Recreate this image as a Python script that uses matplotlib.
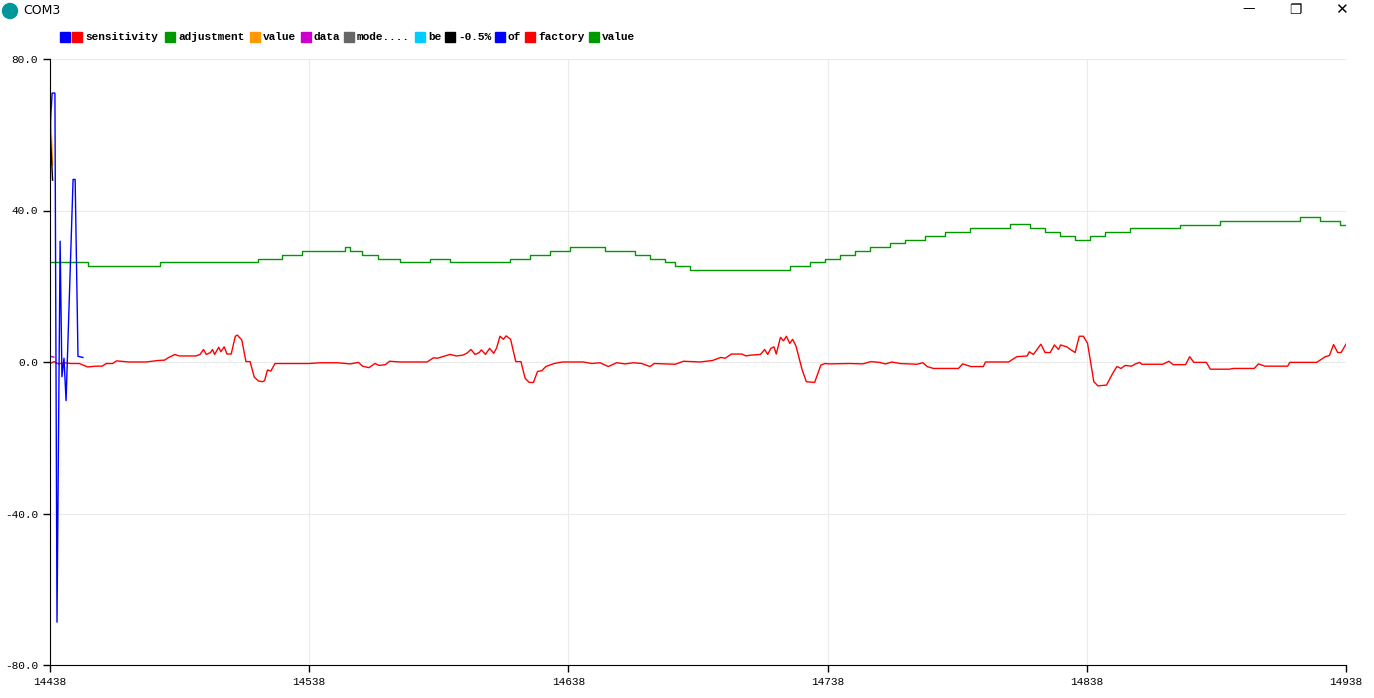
import matplotlib.pyplot as plt
from matplotlib.patches import Rectangle, Ellipse

x0 = 14438
x_ticks = [14438, 14538, 14638, 14738, 14838, 14938]
y_ticks = [-80.0, -40.0, 0.0, 40.0, 80.0]

legend_labels = ["", "sensitivity", "adjustment", "value", "data", "mode....",
                 "be", "-0.5%", "of", "factory", "value"]
legend_colors = ["#0000ff", "#ff0000", "#009900", "#ff9900", "#cc00cc", "#666666",
                 "#00ccff", "#000000", "#0000ff", "#ff0000", "#009900"]

# blue trace (sample index, value)
blue_x = [0, 0.8, 1.9, 2.7, 3.9, 4.6, 5.4, 6.2, 8.9, 9.7, 10.8, 12.7]
blue_y = [60, 71, 71, -68.7, 31.9, -3.9, 1, -10.2, 48.2, 48.2, 1.5, 1.2]

black_x = [0, 1]
black_y = [62, 48]
orange_x = [0, 1]
orange_y = [70, 52]
magenta_x = [0, 1.5]
magenta_y = [1.5, 1.3]

# green step trace: start index of each level, and level
green_x = [0, 14.7, 42.4, 80.2, 89.5, 97.2, 113.8, 115.7, 120.4, 126.5, 135, 146.6,
           154.3, 177.5, 185.2, 192.9, 200.6, 214.1, 225.7, 231.5, 237.3, 241.1,
           246.9, 285.5, 293.2, 299, 304.8, 310.6, 316.4, 324.1, 329.9, 337.6,
           345.3, 354.9, 370.4, 378.1, 383.9, 389.7, 395.4, 401.2, 407, 416.7,
           436, 451.4, 482.3, 490, 497.7, 500]
green_y = [26.3, 25.3, 26.3, 27.3, 28.3, 29.3, 30.3, 29.3, 28.3, 27.3, 26.3, 27.3,
           26.3, 27.3, 28.3, 29.3, 30.4, 29.3, 28.3, 27.3, 26.3, 25.3,
           24.3, 25.3, 26.3, 27.3, 28.3, 29.3, 30.3, 31.3, 32.3, 33.3,
           34.3, 35.3, 36.5, 35.3, 34.3, 33.3, 32.3, 33.3, 34.3, 35.3,
           36.3, 37.3, 38.2, 37.3, 36.3, 36.3]

red_x = [0, 1.6, 3.2, 5.6, 8, 11.3, 14.5, 17.7, 20.1, 21.7, 24.1, 25.7, 30.5, 37,
         41.8, 44.2, 45.8, 48.2, 49.8, 56.3, 57.9, 59.2, 60.3, 61.9, 62.7, 63.5,
         65.1, 65.9, 67.2, 68.3, 69.9, 71.5, 72.3, 74, 75.6, 77.2, 78.8, 80.4, 82,
         82.8, 83.9, 85.2, 86.8, 96.5, 99.7, 104.5, 110.9, 115.8, 119, 120.6, 123,
         125.4, 127, 129.4, 131, 135, 145.5, 147.9, 149.5, 154.3, 156.8, 159.2,
         160.8, 162.4, 164, 165.6, 166.4, 168, 169.6, 171.2, 172.3, 173.6, 174.9,
         176, 177.7, 179.7, 181.7, 183.3, 184.9, 186.5, 188.1, 189.7, 191.3, 194.5,
         197.7, 205.8, 209, 212.2, 215.4, 218.6, 221.9, 225.1, 228.3, 231.5, 233.1,
         241.2, 244.4, 250.8, 255.6, 258.8, 260.5, 262.9, 266.9, 268.5, 270.1,
         274.1, 275.7, 276.9, 278.1, 279.3, 280.2, 281.8, 283, 284.1, 285.4, 286.5,
         287.8, 290.2, 291.8, 295, 297.4, 299, 300.6, 308.7, 313.5, 316.7, 319.9,
         322.4, 324.8, 328, 334.4, 336.8, 338.4, 340.8, 344.9, 350.5, 352.1, 355.3,
         360.1, 360.9, 369.8, 373, 377, 377.8, 379.4, 382.3, 383.9, 385.9, 387.5,
         389.1, 389.9, 392.3, 393.9, 395.5, 397.1, 398.7, 400.3, 402.7, 404.3,
         407.6, 410, 411.6, 413.2, 414.8, 417.2, 418.8, 420.4, 421.2, 429.3, 431.7,
         433.3, 438.1, 439.7, 441.3, 446.1, 447.7, 455, 456.6, 464.6, 466.2, 468.7,
         477.5, 478.3, 488.7, 492, 493.6, 495.2, 496.8, 498.1, 500]
red_y = [-0.4, 0.1, -0.5, -0.2, -0.4, -0.4, -1.3, -1.1, -1.1, -0.4, -0.4, 0.3, 0, 0,
         0.4, 0.5, 1.2, 2.0, 1.6, 1.6, 2.0, 3.3, 2.0, 2.5, 3.3, 2.0,
         3.9, 2.7, 4.0, 2.1, 2.1, 6.8, 7.1, 5.8, 0.1, 0.1, -4.0, -5.0, -5.2,
         -4.9, -2.1, -2.4, -0.4, -0.4, -0.4, -0.2, -0.2, -0.5, -0.1, -1.1, -1.5,
         -0.4, -0.9, -0.7, 0.2, 0, 0, 1.1, 1.0, 2.0, 1.6, 1.8,
         2.3, 3.3, 2.0, 2.5, 3.2, 2.0, 3.6, 2.3, 3.7, 6.8, 6.0,
         6.9, 6.0, 0.1, 0.1, -4.3, -5.4, -5.4, -2.5, -2.3, -1.2, -0.4,
         0, 0, -0.4, -0.2, -1.2, -0.2, -0.5, -0.2, -0.4, -1.2, -0.4,
         -0.6, 0.2, 0, 0.4, 1.2, 1.0, 2.1, 2.1, 1.6, 1.8,
         2.0, 3.3, 2.0, 3.6, 4.0, 2.1, 6.5, 5.6, 6.8, 4.9, 6.0,
         4.2, -2.1, -5.2, -5.4, -0.8, -0.4, -0.5, -0.4, -0.5, 0.1, -0.1,
         -0.5, 0, -0.4, -0.6, -0.2, -1.2, -1.7, -1.7, -1.7, -0.5, -1.2,
         -1.2, 0, 0, 1.4, 1.6, 2.7, 2.0, 4.7, 2.5, 2.5, 4.5,
         3.3, 4.5, 4.0, 3.2, 2.5, 6.8, 6.8, 4.9, -5.2, -6.3,
         -6.1, -3.0, -1.2, -1.7, -0.9, -1.1, -0.5, -0.1, -0.6, -0.6, 0.2,
         -0.7, -0.7, 1.4, -0.1, -0.1, -1.9, -1.9, -1.7, -1.7, -0.5, -1.1,
         -1.1, -0.1, -0.1, 1.4, 1.7, 4.6, 2.5, 2.5, 4.7]

fig = plt.figure(figsize=(13.74, 6.98), dpi=100)
ax = fig.add_axes([50 / 1374, 33 / 698, 1296 / 1374, 606 / 698])

ax.plot([x0 + v for v in green_x], green_y, color="#009900", lw=1, drawstyle="steps-post")
ax.plot([x0 + v for v in red_x], red_y, color="#ff0000", lw=1)
ax.plot([x0 + v for v in blue_x], blue_y, color="#0000ff", lw=1)
ax.plot([x0 + v for v in orange_x], orange_y, color="#ff9900", lw=1)
ax.plot([x0 + v for v in black_x], black_y, color="#000000", lw=1)
ax.plot([x0 + v for v in magenta_x], magenta_y, color="#cc00cc", lw=1)

ax.set_xlim(x_ticks[0], x_ticks[-1])
ax.set_ylim(-80, 80)
ax.set_xticks(x_ticks)
ax.set_yticks(y_ticks)
ax.set_yticklabels(["%.1f" % v for v in y_ticks])
ax.grid(True, color="#ebebeb", lw=0.8)
for s in ["top", "right"]:
    ax.spines[s].set_visible(False)
ax.tick_params(labelsize=8, length=5, width=1, direction="out")
for lab in ax.get_xticklabels() + ax.get_yticklabels():
    lab.set_family("Liberation Mono")

# window title bar
fig.patches.append(Ellipse((10 / 1374, 1 - 11 / 698), 15 / 1374, 15 / 698,
                           transform=fig.transFigure, color="#00979c"))
fig.text(23 / 1374, 1 - 11 / 698, "COM3", fontsize=9, va="center", family="DejaVu Sans")
fig.text(1249 / 1374, 1 - 9 / 698, "\u2014", fontsize=9, ha="center", va="center")
fig.text(1295 / 1374, 1 - 10 / 698, "\u2750", fontsize=10, ha="center", va="center")
fig.text(1341 / 1374, 1 - 10 / 698, "\u2715", fontsize=11, ha="center", va="center")

# legend row
sq_x = [60, 72, 165, 250, 301, 344, 415, 445, 495, 525, 589]
for px, lab, col in zip(sq_x, legend_labels, legend_colors):
    fig.patches.append(Rectangle((px / 1374, 1 - 42 / 698), 10 / 1374, 10 / 698,
                                 transform=fig.transFigure, color=col))
    if lab:
        fig.text((px + 13) / 1374, 1 - 37 / 698, lab, fontsize=8, va="center",
                 family="Liberation Mono", weight="bold")

fig.savefig("out.png")
